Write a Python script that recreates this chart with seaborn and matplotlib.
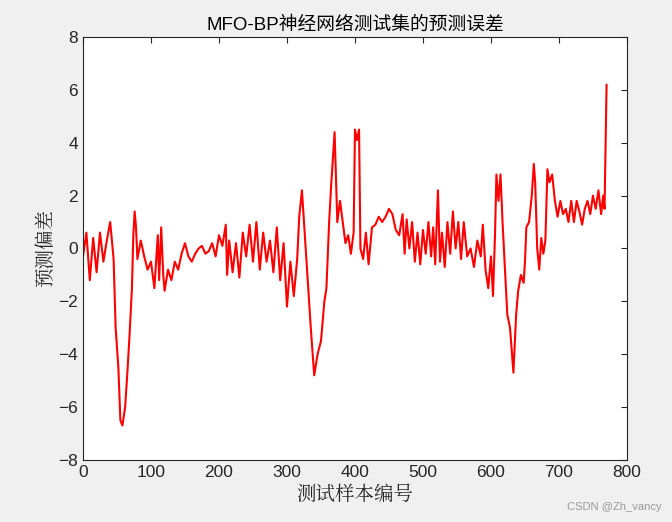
import matplotlib
matplotlib.use("Agg")
import matplotlib.pyplot as plt
import seaborn as sns
import pandas as pd

sample_idx = [0,5,10,15,20,25,30,35,40,45,48,52,55,58,62,65,68,70,72,74,76,78,80,85,90,95,100,105,110,112,115,118,120,125,130,135,140,145,150,155,160,165,170,175,180,185,190,195,200,205,210,212,215,220,225,230,235,240,245,250,255,260,265,270,275,280,285,290,295,300,305,310,315,318,322,325,330,335,340,345,350,355,358,362,365,370,374,378,382,386,390,394,398,400,403,406,408,412,416,420,425,430,435,440,445,450,455,460,465,470,473,476,480,484,488,492,496,500,504,508,512,515,518,522,525,528,532,536,540,544,548,552,556,560,565,570,575,580,585,588,592,596,600,603,606,608,611,614,617,620,624,628,633,637,640,644,648,650,652,656,660,663,665,668,671,674,677,680,683,686,690,694,698,702,706,710,714,718,722,726,730,734,738,742,746,750,754,758,762,765,767,770]
errors = [-0.3,0.6,-1.2,0.4,-0.9,0.6,-0.5,0.3,1.0,-0.4,-3.0,-4.5,-6.5,-6.7,-6.0,-4.8,-3.5,-2.5,-1.5,0.5,1.4,0.8,-0.4,0.3,-0.3,-0.8,-0.5,-1.5,0.5,-1.2,0.8,-1.0,-1.6,-0.8,-1.2,-0.5,-0.8,-0.2,0.2,-0.3,-0.5,-0.2,0.0,0.1,-0.2,-0.1,0.2,-0.3,0.5,0.1,0.9,-1.0,0.3,-0.9,0.2,-1.1,0.6,-0.3,0.9,-0.5,1.0,-0.8,0.6,-0.5,0.3,-0.9,0.8,-1.2,0.2,-2.2,-0.5,-1.8,-0.4,1.2,2.2,1.0,-1.0,-3.0,-4.8,-4.0,-3.5,-2.0,-1.5,1.0,2.4,4.4,1.0,1.8,1.0,0.2,0.5,-0.2,0.6,4.5,4.1,4.5,0.0,-0.4,0.6,-0.6,0.8,0.9,1.2,1.0,1.2,1.5,1.3,0.7,0.5,1.3,-0.2,1.1,0.0,1.0,-0.5,0.6,-0.6,0.7,-0.2,1.0,-0.3,0.8,-0.6,2.2,-0.5,0.6,-0.7,1.0,-0.2,1.4,0.0,1.0,-0.4,1.0,-0.3,0.0,-0.7,0.3,-0.3,0.9,-0.8,-1.5,-0.3,-1.8,0.6,2.8,1.8,2.8,1.0,-0.5,-2.5,-3.0,-4.7,-2.5,-1.6,-1.0,-1.3,-0.5,0.8,1.0,2.0,3.2,2.5,0.0,-0.8,0.4,-0.2,0.3,3.0,2.5,2.8,1.8,1.2,1.8,1.3,1.5,1.0,1.8,1.0,1.8,1.4,0.9,1.5,1.8,1.3,2.0,1.5,2.2,1.3,2.0,1.5,6.2]
x_ticks = [0,100,200,300,400,500,600,700,800]
y_ticks = [-8,-6,-4,-2,0,2,4,6,8]

sns.set_style("white")
plt.rcParams['font.family'] = ['Liberation Sans', 'Noto Sans CJK SC', 'DejaVu Sans']

fig = plt.figure(figsize=(6.72, 5.22), dpi=100, facecolor='#f0f0f0')
ax = fig.add_axes([0.1235, 0.119, 0.8095, 0.81])
df = pd.DataFrame({'x': sample_idx, 'y': errors})
sns.lineplot(data=df, x='x', y='y', ax=ax, color='red', linewidth=1.5)
ax.set_xlim(0, 800); ax.set_ylim(-8, 8)
ax.set_xticks(x_ticks); ax.set_yticks(y_ticks)
ax.tick_params(direction='in', length=4, labelsize=12.5, colors='#262626', top=True, right=True)
for s in ax.spines.values():
    s.set_color('#262626'); s.set_linewidth(0.8)
ax.set_xlabel('测试样本编号', fontsize=14, color='#262626', family=['Noto Serif CJK SC', 'Noto Sans CJK SC'])
ax.set_ylabel('预测偏差', fontsize=14, color='#262626', labelpad=2, family=['Noto Serif CJK SC', 'Noto Sans CJK SC'])
ax.set_title('MFO-BP神经网络测试集的预测误差', fontsize=13.5, color='black', pad=5)
fig.text(0.985, 0.02, 'CSDN @Zh_vancy', ha='right', va='bottom', fontsize=8, color='#999999')
fig.savefig('out.png', dpi=100, facecolor=fig.get_facecolor())
